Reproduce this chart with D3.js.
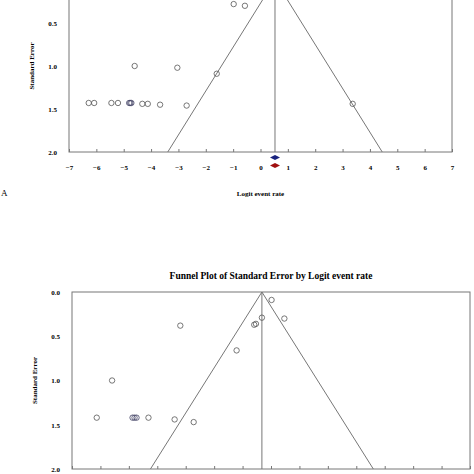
<!DOCTYPE html><html><head><meta charset="utf-8"><script src="https://cdn.jsdelivr.net/npm/d3@7"></script>
<style>body{margin:0;background:#fff}text{font-family:"Liberation Serif",serif;font-weight:bold}</style></head><body><svg id="s" width="474" height="474"></svg>
<script>
const xTicks=[-7,-6,-5,-4,-3,-2,-1,0,1,2,3,4,5,6,7];
const yTicks=[0,0.5,1,1.5,2];
const meanA=0.53, meanB=-0.32;
const ptsAx=[-0.98,-0.57,-4.6,-3.04,-1.6,-6.28,-6.08,-5.45,-5.21,-4.80,-4.76,-4.72,-4.32,-4.12,-3.67,-2.70,3.37];
const ptsAse=[0.28,0.30,1.0,1.02,1.09,1.43,1.43,1.43,1.43,1.43,1.43,1.43,1.44,1.44,1.45,1.46,1.44];
const ptsBx=[0.02,-0.32,0.47,-3.19,-0.59,-0.53,-1.21,-5.59,-6.13,-4.87,-4.80,-4.73,-4.31,-3.39,-2.72];
const ptsBse=[0.09,0.29,0.30,0.38,0.37,0.36,0.66,1.00,1.42,1.42,1.42,1.42,1.42,1.44,1.47];
const svg=d3.select("#s");
function panel(x0,x1,y0,y1,mean,px,pse,opts){
  const x=d3.scaleLinear().domain([-7,7]).range([x0,x1]);
  const y=d3.scaleLinear().domain([0,2]).range([y0,y1]);
  const g=svg.append("g");
  const c="#777";
  g.append("rect").attr("x",x0).attr("y",y0).attr("width",x1-x0).attr("height",y1-y0).attr("fill","none").attr("stroke",c).attr("stroke-width",1);
  g.append("line").attr("x1",x(mean)).attr("x2",x(mean)).attr("y1",y(0)).attr("y2",y(2)).attr("stroke",c);
  g.append("path").attr("d",d3.line()([[x(mean-1.96*2),y(2)],[x(mean),y(0)],[x(mean+1.96*2),y(2)]])).attr("fill","none").attr("stroke",c);
  const xa=g.append("g").attr("transform",`translate(0,${y1})`).call(d3.axisBottom(x).tickValues(xTicks).tickSize(4).tickFormat(opts.xlab?d3.format("d"):""));
  xa.select(".domain").remove();xa.selectAll("line").attr("stroke",c).attr("y2",-3);
  if(!opts.xlab) xa.selectAll("text").remove();
  xa.selectAll("text").attr("font-size",7).attr("dy","1.6em").attr("font-family","Liberation Serif");
  const ya=g.append("g").attr("transform",`translate(${x0},0)`).call(d3.axisLeft(y).tickValues(opts.yt).tickSize(0).tickPadding(12).tickFormat(d3.format(".1f")));
  ya.select(".domain").remove();
  ya.selectAll("text").attr("font-size",7).attr("font-family","Liberation Serif");
  g.append("text").attr("transform",`translate(${x0-35},${(y0+y1)/2}) rotate(-90)`).attr("text-anchor","middle").attr("font-size",7).text("Standard Error");
  g.selectAll("circle").data(px).join("circle").attr("cx",d=>x(d)).attr("cy",(d,i)=>y(pse[i])).attr("r",2.7).attr("fill","none").attr("stroke",(d,i)=>opts.blue&&opts.blue.includes(i)?"#446":"#555").attr("stroke-width",0.8);
  return {x,y};
}
const A=panel(69,452,-20,152,meanA,ptsAx,ptsAse,{blue:[9,10,11],xlab:true,yt:yTicks.slice(1)});
const dm=(cx,cy,col)=>svg.append("path").attr("d",`M${cx-5},${cy}L${cx},${cy-2.5}L${cx+5},${cy}L${cx},${cy+2.5}Z`).attr("fill",col);
dm(A.x(meanA),157.5,"#1a237e");dm(A.x(meanA),165.5,"#a01010");
svg.append("text").attr("x",A.x(0)).attr("y",196).attr("text-anchor","middle").attr("font-size",7).text("Logit event rate");
svg.append("text").attr("x",1).attr("y",196).attr("font-size",9).style("font-weight","normal").text("A");
svg.append("text").attr("x",271).attr("y",279).attr("text-anchor","middle").attr("font-size",9.5).text("Funnel Plot of Standard Error by Logit event rate");
panel(72,470,292,469,meanB,ptsBx,ptsBse,{blue:[9,10,11],xlab:false,yt:yTicks});
</script></body></html>
